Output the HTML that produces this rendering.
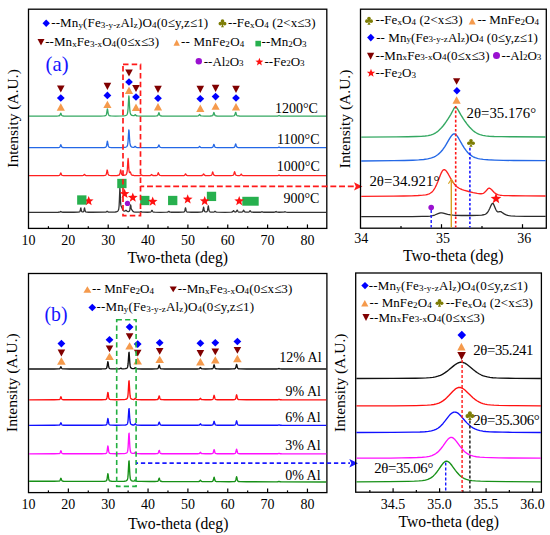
<!DOCTYPE html>
<html><head><meta charset="utf-8"><style>html,body{margin:0;padding:0;background:#fff;}svg{display:block;font-family:"Liberation Serif",serif;}</style></head><body>
<svg width="550" height="535" viewBox="0 0 550 535" font-family="Liberation Serif, serif">
<rect width="550" height="535" fill="#fff"/>
<polyline points="29.1,116.1 53.6,116.08 56.85,116.05 58.35,115.97 59.35,115.76 59.6,115.6 59.85,115.32 60.1,114.85 60.6,113.38 60.85,113.12 61.6,115.07 61.85,115.45 62.35,115.8 62.85,115.92 63.6,116 68.85,116.08 92.85,116.08 100.6,116.05 103.85,115.94 104.6,115.85 105.35,115.66 105.85,115.37 106.1,115.07 106.35,114.54 106.6,113.62 107.35,108.93 107.6,109.56 108.1,113.1 108.35,114.23 108.6,114.89 108.85,115.26 109.35,115.61 110.1,115.83 111.1,115.94 115.35,116.03 122.1,115.95 123.85,115.84 125.1,115.66 126.1,115.31 126.6,114.96 126.85,114.69 127.1,114.31 127.35,113.71 127.6,112.73 127.85,111.04 128.1,108.26 128.6,99.16 128.85,95.9 129.1,97.42 129.6,106.76 129.85,110.07 130.1,112.15 130.35,113.37 130.6,114.09 130.85,114.54 131.35,115.07 132.1,115.46 133.1,115.67 133.6,115.69 134.1,115.61 134.6,115.25 135.1,114.66 135.35,114.71 135.85,115.37 136.35,115.75 136.85,115.88 137.6,115.95 141.35,116.04 150.35,116.07 154.6,116.04 156.6,115.93 157.35,115.75 157.6,115.61 157.85,115.36 158.1,114.92 158.85,112.71 159.1,113.01 159.6,114.68 159.85,115.21 160.1,115.53 160.6,115.81 161.85,115.99 164.35,116.06 170.35,116.09 196.85,116.04 198.1,115.92 198.6,115.72 198.85,115.49 199.35,114.72 199.6,114.49 199.85,114.71 200.35,115.49 200.6,115.72 200.85,115.85 201.35,115.96 204.35,116.07 210.35,116.02 211.85,115.88 212.35,115.73 212.6,115.59 212.85,115.32 213.1,114.86 213.85,112.52 214.1,112.83 214.6,114.6 214.85,115.17 215.1,115.5 215.35,115.68 215.85,115.86 217.1,116 219.6,116.06 231.85,116.03 233.6,115.88 234.1,115.73 234.35,115.58 234.6,115.33 234.85,114.88 235.6,112.29 235.85,112.41 236.35,114.32 236.6,114.99 236.85,115.39 237.1,115.62 237.6,115.83 238.35,115.95 239.35,116.02 246.85,116.09 276.1,116.08 277.85,115.99 278.35,115.83 278.85,115.53 279.1,115.51 279.6,115.8 280.1,115.98 281.85,116.08 326.1,116.1" fill="none" stroke="#34a862" stroke-width="1.3" stroke-linejoin="round"/>
<polyline points="29.1,147.7 53.6,147.68 56.85,147.65 58.35,147.57 59.35,147.36 59.6,147.2 59.85,146.92 60.1,146.45 60.6,144.98 60.85,144.72 61.6,146.67 61.85,147.05 62.35,147.4 62.85,147.52 63.6,147.6 68.6,147.68 91.85,147.69 100.6,147.65 103.85,147.55 104.6,147.48 105.35,147.3 105.85,147.04 106.1,146.77 106.35,146.29 106.6,145.46 107.35,141.23 107.6,141.79 108.1,144.99 108.35,146.01 108.6,146.61 108.85,146.94 109.35,147.26 110.1,147.45 111.1,147.56 115.1,147.64 122.1,147.57 123.85,147.47 125.1,147.31 126.1,147 126.6,146.7 126.85,146.46 127.1,146.12 127.35,145.59 127.6,144.72 127.85,143.24 128.1,140.78 128.6,132.76 128.85,129.88 129.1,131.23 129.6,139.47 129.85,142.38 130.1,144.22 130.35,145.29 130.6,145.93 130.85,146.33 131.35,146.79 132.1,147.13 133.1,147.31 133.6,147.32 134.1,147.23 134.6,146.87 135.1,146.28 135.35,146.33 135.85,146.99 136.35,147.36 136.85,147.49 137.6,147.56 140.6,147.64 147.85,147.67 153.85,147.66 156.35,147.58 157.35,147.41 157.85,147.09 158.1,146.73 158.85,144.91 159.1,145.15 159.6,146.53 159.85,146.97 160.1,147.23 160.6,147.46 161.85,147.61 170.35,147.69 196.85,147.65 198.1,147.55 198.6,147.39 198.85,147.2 199.35,146.57 199.6,146.39 199.85,146.57 200.35,147.2 200.6,147.39 201.35,147.59 204.35,147.67 210.35,147.62 211.85,147.49 212.35,147.35 212.6,147.21 212.85,146.97 213.1,146.53 213.85,144.32 214.1,144.61 214.6,146.28 214.85,146.82 215.1,147.13 215.35,147.31 215.85,147.47 217.1,147.61 219.6,147.67 231.85,147.63 233.6,147.48 234.1,147.34 234.35,147.2 234.6,146.95 234.85,146.51 235.6,143.99 235.85,144.1 236.35,145.96 236.6,146.62 236.85,147.01 237.1,147.23 237.6,147.44 238.35,147.56 239.35,147.62 246.85,147.69 276.1,147.68 277.85,147.59 278.35,147.43 278.85,147.13 279.1,147.11 279.6,147.4 280.1,147.58 281.85,147.68 326.1,147.7" fill="none" stroke="#2468e6" stroke-width="1.3" stroke-linejoin="round"/>
<polyline points="29.1,175.7 53.6,175.68 58.35,175.58 59.35,175.39 59.6,175.25 59.85,175 60.1,174.58 60.6,173.25 60.85,173.01 61.6,174.77 61.85,175.12 62.35,175.43 63.6,175.61 72.1,175.69 79.85,175.68 82.35,175.62 83.35,175.44 83.85,175.05 84.35,174.37 84.6,174.33 85.1,174.99 85.6,175.42 86.1,175.56 86.6,175.61 89.35,175.67 97.6,175.67 101.85,175.63 103.85,175.55 104.85,175.42 105.35,175.27 105.85,174.92 106.1,174.54 106.35,173.87 106.6,172.78 107.1,170.02 107.35,170.19 107.85,173.03 108.1,174.03 108.35,174.63 108.6,174.97 108.85,175.16 109.6,175.41 111.1,175.56 114.35,175.6 117.1,175.52 118.1,175.41 118.85,175.21 119.35,174.86 119.6,174.48 119.85,173.81 120.1,172.71 120.6,169.94 120.85,170.11 121.35,172.94 121.6,173.93 121.85,174.52 122.1,174.84 122.35,175.02 122.85,175.2 123.6,175.27 124.6,175.2 125.35,175.01 125.85,174.75 126.1,174.54 126.35,174.24 126.6,173.78 126.85,172.99 127.1,171.58 127.35,169.15 127.85,160.9 128.1,158.51 128.35,160.84 128.85,168.91 129.1,171.18 129.35,172.3 129.6,172.61 129.85,172.37 130.1,171.9 130.35,171.85 131.1,174.16 131.35,174.61 131.6,174.89 131.85,175.06 132.35,175.25 133.85,175.48 136.85,175.6 139.6,175.57 140.35,175.4 141.1,174.87 141.35,174.9 142.1,175.43 142.85,175.59 145.6,175.65 149.35,175.61 150.1,175.54 150.6,175.39 150.85,175.22 151.35,174.63 151.6,174.47 151.85,174.63 152.35,175.21 152.85,175.48 154.1,175.59 156.1,175.52 156.85,175.34 157.1,175.18 157.35,174.91 157.6,174.44 158.1,172.96 158.35,172.7 159.1,174.66 159.35,175.04 159.6,175.26 160.1,175.46 161.35,175.6 164.35,175.67 171.85,175.69 180.35,175.67 183.1,175.61 183.85,175.53 184.35,175.37 184.6,175.18 184.85,174.87 185.35,173.99 185.6,173.94 186.35,175.13 186.85,175.46 187.35,175.56 188.6,175.64 191.1,175.68 200.85,175.63 202.1,175.49 202.6,175.26 202.85,175.01 203.35,174.13 203.6,173.88 203.85,174.13 204.35,175 204.6,175.26 205.1,175.49 206.6,175.62 209.35,175.59 210.85,175.41 211.35,175.19 211.6,174.94 211.85,174.5 212.1,173.79 212.6,171.98 212.85,172.1 213.35,173.96 213.6,174.61 213.85,175.01 214.35,175.35 214.85,175.48 216.1,175.61 218.85,175.66 226.85,175.67 230.85,175.62 232.6,175.44 233.1,175.26 233.35,175.08 233.6,174.75 233.85,174.18 234.35,172.24 234.6,171.69 234.85,172.24 235.35,174.17 235.6,174.74 235.85,175.07 236.1,175.25 236.6,175.43 237.85,175.56 239.35,175.54 240.1,175.35 240.35,175.17 240.6,174.87 241.1,174.11 241.35,174.16 241.85,174.95 242.1,175.22 242.35,175.39 243.1,175.57 244.85,175.66 276.35,175.68 277.85,175.59 278.35,175.42 278.85,175.13 279.1,175.11 279.6,175.4 280.1,175.58 281.85,175.68 326.1,175.7" fill="none" stroke="#ff2020" stroke-width="1.3" stroke-linejoin="round"/>
<polyline points="29.1,212.3 58.1,212.26 59.6,212.14 60.1,211.89 60.6,211.51 60.85,211.54 61.35,211.93 61.85,212.15 62.85,212.25 73.85,212.27 78.35,212.17 79.35,211.98 79.6,211.85 79.85,211.61 80.1,211.09 80.35,210.05 80.6,208.53 80.85,207.89 81.35,210.51 81.6,211.3 81.85,211.66 82.35,211.9 83.1,211.86 83.35,211.74 83.6,211.48 83.85,210.89 84.35,208.25 84.6,208.04 85.1,210.75 85.35,211.44 85.6,211.77 85.85,211.93 86.85,212.15 88.6,212.24 92.1,212.27 104.85,212.21 105.6,212.15 106.1,212.01 106.35,211.87 106.85,211.38 107.1,211.24 107.35,211.38 107.85,211.86 108.1,212 108.6,212.12 109.1,212.16 111.1,212.17 113.6,212.1 115.1,211.99 116.35,211.78 117.35,211.4 117.85,211 118.1,210.69 118.35,210.24 118.6,209.53 118.85,208.25 119.1,205.77 119.35,201.14 119.85,188.15 120.1,190.57 120.6,202.33 120.85,204.88 121.1,205.94 121.85,207.43 122.85,209.94 123.1,210.36 123.6,210.91 123.85,211.07 124.35,211.2 124.85,211.08 125.85,210.41 126.1,210.41 126.35,210.56 127.1,211.25 127.6,211.53 128.35,211.62 128.85,211.5 129.1,211.35 129.35,211.09 129.6,210.6 129.85,209.66 130.35,206.04 130.6,204.83 130.85,205.84 131.1,207.66 131.35,208.95 131.6,209.58 132.1,210.09 132.85,211.22 133.35,211.67 133.85,211.89 134.85,212.07 136.35,212.16 139.6,212.16 140.1,212.07 140.85,211.68 141.1,211.66 141.85,212.06 142.85,212.21 147.6,212.24 150.1,212.14 150.6,212.03 151.1,211.71 151.35,211.37 151.85,210.39 152.1,210.33 152.6,211.28 152.85,211.66 153.1,211.89 153.6,212.09 154.6,212.21 160.6,212.28 166.85,212.22 167.35,212.17 167.85,212.03 168.1,211.87 168.6,211.38 168.85,211.29 169.6,211.94 169.85,212.07 170.85,212.23 178.6,212.27 182.85,212.17 183.6,212.07 184.1,211.89 184.35,211.71 184.6,211.35 184.85,210.65 185.35,208.04 185.6,207.85 186.1,210.45 186.35,211.25 186.6,211.66 186.85,211.86 187.35,212.05 188.6,212.2 191.1,212.26 197.6,212.25 200.6,212.17 201.85,211.98 202.35,211.72 202.6,211.43 202.85,210.83 203.1,209.75 203.35,208.19 203.6,207.24 203.85,208.18 204.1,209.72 204.35,210.8 204.6,211.38 204.85,211.66 205.1,211.8 205.6,211.91 206.1,211.91 206.6,211.8 206.85,211.68 207.1,211.46 207.35,211.03 207.6,210.17 208.1,206.59 208.35,205.81 208.85,209.34 209.1,210.61 209.35,211.28 209.6,211.62 210.1,211.91 210.6,212.04 211.6,212.15 213.1,212.16 213.85,212.07 214.35,211.8 214.85,211.31 215.1,211.29 215.6,211.76 216.1,212.07 217.1,212.22 224.85,212.28 231.1,212.2 231.85,212.13 232.35,211.98 232.6,211.81 232.85,211.53 233.35,210.74 233.6,210.68 234.35,211.72 234.85,211.97 235.35,212.01 235.85,211.92 236.1,211.79 236.35,211.55 237.1,210.1 237.35,210.17 237.85,211.25 238.1,211.63 238.35,211.86 238.85,212.06 240.1,212.17 241.6,212.13 242.35,211.96 242.6,211.79 242.85,211.51 243.35,210.55 243.6,210.27 243.85,210.55 244.35,211.51 244.6,211.8 244.85,211.96 245.6,212.14 246.6,212.19 248.1,212.16 248.85,212.03 249.35,211.67 249.85,210.9 250.1,210.68 250.35,210.9 250.85,211.68 251.35,212.04 252.1,212.18 253.6,212.25 260.35,212.24 261.1,212.12 261.85,211.72 262.1,211.71 262.85,212.1 263.85,212.25 273.85,212.25 274.85,212.15 275.35,211.93 275.85,211.54 276.1,211.51 276.6,211.89 277.1,212.14 277.6,212.22 278.85,212.27 283.6,212.22 284.1,212.12 284.85,211.73 285.1,211.71 285.6,212 286.1,212.18 287.85,212.28 326.1,212.3" fill="none" stroke="#333333" stroke-width="1.3" stroke-linejoin="round"/>
<rect x="28.5" y="9.2" width="298.3" height="219.2" fill="none" stroke="#000" stroke-width="1.3"/>
<line x1="48.42" y1="228.4" x2="48.42" y2="226.2" stroke="#000" stroke-width="1.2"/>
<line x1="68.35" y1="228.4" x2="68.35" y2="224.4" stroke="#000" stroke-width="1.2"/>
<line x1="88.28" y1="228.4" x2="88.28" y2="226.2" stroke="#000" stroke-width="1.2"/>
<line x1="108.2" y1="228.4" x2="108.2" y2="224.4" stroke="#000" stroke-width="1.2"/>
<line x1="128.12" y1="228.4" x2="128.12" y2="226.2" stroke="#000" stroke-width="1.2"/>
<line x1="148.05" y1="228.4" x2="148.05" y2="224.4" stroke="#000" stroke-width="1.2"/>
<line x1="167.97" y1="228.4" x2="167.97" y2="226.2" stroke="#000" stroke-width="1.2"/>
<line x1="187.9" y1="228.4" x2="187.9" y2="224.4" stroke="#000" stroke-width="1.2"/>
<line x1="207.82" y1="228.4" x2="207.82" y2="226.2" stroke="#000" stroke-width="1.2"/>
<line x1="227.75" y1="228.4" x2="227.75" y2="224.4" stroke="#000" stroke-width="1.2"/>
<line x1="247.67" y1="228.4" x2="247.67" y2="226.2" stroke="#000" stroke-width="1.2"/>
<line x1="267.6" y1="228.4" x2="267.6" y2="224.4" stroke="#000" stroke-width="1.2"/>
<line x1="287.52" y1="228.4" x2="287.52" y2="226.2" stroke="#000" stroke-width="1.2"/>
<line x1="307.45" y1="228.4" x2="307.45" y2="224.4" stroke="#000" stroke-width="1.2"/>
<text x="28.5" y="245" font-size="14" text-anchor="middle" fill="#000" color="#000" >10</text>
<text x="68.35" y="245" font-size="14" text-anchor="middle" fill="#000" color="#000" >20</text>
<text x="108.2" y="245" font-size="14" text-anchor="middle" fill="#000" color="#000" >30</text>
<text x="148.05" y="245" font-size="14" text-anchor="middle" fill="#000" color="#000" >40</text>
<text x="187.9" y="245" font-size="14" text-anchor="middle" fill="#000" color="#000" >50</text>
<text x="227.75" y="245" font-size="14" text-anchor="middle" fill="#000" color="#000" >60</text>
<text x="267.6" y="245" font-size="14" text-anchor="middle" fill="#000" color="#000" >70</text>
<text x="307.45" y="245" font-size="14" text-anchor="middle" fill="#000" color="#000" >80</text>
<text x="177.8" y="263.3" font-size="15.7" text-anchor="middle" fill="#000" color="#000" >Two-theta (deg)</text>
<text transform="translate(17.6 118.5) rotate(-90)" font-size="15.5" text-anchor="middle">Intensity (A.U.)</text>
<path d="M46.2 19.5L49.9 23.2L46.2 26.9L42.5 23.2Z" fill="#0000ff"/>
<text x="51.2" y="27.2" font-size="13" fill="#000" color="#000" textLength="157" lengthAdjust="spacing">--Mn<tspan font-size="9" dy="0.5">y</tspan><tspan dy="-0.5">​</tspan>(Fe<tspan font-size="9" dy="0.5">3-y-z</tspan><tspan dy="-0.5">​</tspan>Al<tspan font-size="9" dy="0.5">z</tspan><tspan dy="-0.5">​</tspan>)O<tspan font-size="9" dy="0.5">4</tspan><tspan dy="-0.5">​</tspan>(0≤y,z≤1)</text>
<g fill="#7d7d05"><circle cx="222.5" cy="21.08" r="1.8"/><circle cx="220.34" cy="23.64" r="1.8"/><circle cx="224.66" cy="23.64" r="1.8"/><circle cx="222.5" cy="23" r="1.26"/><path d="M222.18 23Q222.02 26.2 220.9 27.16H224.1Q222.98 26.2 222.82 23Z"/></g>
<text x="228" y="27.2" font-size="13" fill="#000" color="#000" textLength="87.5" lengthAdjust="spacing">--Fe<tspan font-size="9" dy="0.5">x</tspan><tspan dy="-0.5">​</tspan>O<tspan font-size="9" dy="0.5">4</tspan><tspan dy="-0.5">​</tspan> (2&lt;x≤3)</text>
<path d="M37.5 38.9H44.5L41 45.5Z" fill="#800000"/>
<text x="45.2" y="46.4" font-size="13" fill="#000" color="#000" textLength="113.8" lengthAdjust="spacing">--Mn<tspan font-size="9" dy="0.5">x</tspan><tspan dy="-0.5">​</tspan>Fe<tspan font-size="9" dy="0.5">3-x</tspan><tspan dy="-0.5">​</tspan>O<tspan font-size="9" dy="0.5">4</tspan><tspan dy="-0.5">​</tspan>(0≤x≤3)</text>
<path d="M173.5 45.7H179.9L176.7 39.5Z" fill="#f59a4c"/>
<text x="181" y="46.4" font-size="13" fill="#000" color="#000" textLength="63.5" lengthAdjust="spacing">-- MnFe<tspan font-size="9" dy="0.5">2</tspan><tspan dy="-0.5">​</tspan>O<tspan font-size="9" dy="0.5">4</tspan><tspan dy="-0.5">​</tspan></text>
<rect x="255.4" y="40.8" width="5.6" height="5.6" fill="#27b04e"/>
<text x="261.6" y="46.4" font-size="13" fill="#000" color="#000" textLength="45" lengthAdjust="spacing">--Mn<tspan font-size="9" dy="0.5">2</tspan><tspan dy="-0.5">​</tspan>O<tspan font-size="9" dy="0.5">3</tspan><tspan dy="-0.5">​</tspan></text>
<circle cx="198.8" cy="61.3" r="3.2" fill="#9a10d0"/>
<text x="203.8" y="65.5" font-size="13" fill="#000" color="#000" textLength="39.7" lengthAdjust="spacing">--Al<tspan font-size="9" dy="0.5">2</tspan><tspan dy="-0.5">​</tspan>O<tspan font-size="9" dy="0.5">3</tspan><tspan dy="-0.5">​</tspan></text>
<polygon points="259.4,57.8 260.44,60.57 263.39,60.7 261.08,62.55 261.87,65.4 259.4,63.76 256.93,65.4 257.72,62.55 255.41,60.7 258.36,60.57" fill="#ff1010"/>
<text x="264.5" y="65.5" font-size="13" fill="#000" color="#000" textLength="40" lengthAdjust="spacing">--Fe<tspan font-size="9" dy="0.5">2</tspan><tspan dy="-0.5">​</tspan>O<tspan font-size="9" dy="0.5">3</tspan><tspan dy="-0.5">​</tspan></text>
<text x="57.1" y="70.7" font-size="22" text-anchor="middle" fill="#1414ff" color="#1414ff" textLength="23" lengthAdjust="spacingAndGlyphs">(a)</text>
<path d="M57 85.4H64.6L60.8 92.6Z" fill="#800000"/>
<path d="M60.8 94.2L64.7 98L60.8 101.8L56.9 98Z" fill="#0000ff"/>
<path d="M56.7 110.7H64.9L60.8 103.3Z" fill="#f59a4c"/>
<path d="M103.6 82.7H111.2L107.4 89.9Z" fill="#800000"/>
<path d="M107.4 91.6L111.3 95.4L107.4 99.2L103.5 95.4Z" fill="#0000ff"/>
<path d="M103.3 108.1H111.5L107.4 100.7Z" fill="#f59a4c"/>
<path d="M125.2 69.4H132.8L129 76.6Z" fill="#800000"/>
<path d="M129 78.2L132.9 82L129 85.8L125.1 82Z" fill="#0000ff"/>
<path d="M124.9 93.9H133.1L129 86.5Z" fill="#f59a4c"/>
<path d="M132.2 84.9H139.8L136 92.1Z" fill="#800000"/>
<path d="M136 93.2L139.9 97L136 100.8L132.1 97Z" fill="#0000ff"/>
<path d="M131.9 111H140.1L136 103.6Z" fill="#f59a4c"/>
<path d="M154.2 85.8H161.8L158 93Z" fill="#800000"/>
<path d="M158 94.5L161.9 98.3L158 102.1L154.1 98.3Z" fill="#0000ff"/>
<path d="M153.9 110.4H162.1L158 103Z" fill="#f59a4c"/>
<path d="M196.5 85.7H204.1L200.3 92.9Z" fill="#800000"/>
<path d="M200.3 94.9L204.2 98.7L200.3 102.5L196.4 98.7Z" fill="#0000ff"/>
<path d="M196.2 111.9H204.4L200.3 104.5Z" fill="#f59a4c"/>
<path d="M211.8 84.7H219.4L215.6 91.9Z" fill="#800000"/>
<path d="M215.6 92.8L219.5 96.6L215.6 100.4L211.7 96.6Z" fill="#0000ff"/>
<path d="M211.5 109.8H219.7L215.6 102.4Z" fill="#f59a4c"/>
<path d="M232.2 85.7H239.8L236 92.9Z" fill="#800000"/>
<path d="M236 94.2L239.9 98L236 101.8L232.1 98Z" fill="#0000ff"/>
<path d="M231.9 110.5H240.1L236 103.1Z" fill="#f59a4c"/>
<text x="317.9" y="113.2" font-size="14" text-anchor="end" fill="#000" color="#000" >1200°C</text>
<text x="319.5" y="144.1" font-size="14" text-anchor="end" fill="#000" color="#000" >1100°C</text>
<text x="319.8" y="171" font-size="14" text-anchor="end" fill="#000" color="#000" >1000°C</text>
<text x="319.4" y="202.8" font-size="14" text-anchor="end" fill="#000" color="#000" >900°C</text>
<polygon points="88.7,195.9 89.96,199.27 93.55,199.42 90.74,201.66 91.7,205.13 88.7,203.14 85.7,205.13 86.66,201.66 83.85,199.42 87.44,199.27" fill="#ff1010"/>
<rect x="77.15" y="195.35" width="9.3" height="9.3" fill="#27b04e"/>
<rect x="117.25" y="178.85" width="9.3" height="9.3" fill="#27b04e"/>
<rect x="140.15" y="195.85" width="9.3" height="9.3" fill="#27b04e"/>
<rect x="168.05" y="195.85" width="9.3" height="9.3" fill="#27b04e"/>
<rect x="206.85" y="191.75" width="9.3" height="9.3" fill="#27b04e"/>
<rect x="242.3" y="196.8" width="16.4" height="8.9" fill="#27b04e"/>
<polygon points="124.6,188.7 125.86,192.07 129.45,192.22 126.64,194.46 127.6,197.93 124.6,195.94 121.6,197.93 122.56,194.46 119.75,192.22 123.34,192.07" fill="#ff1010"/>
<polygon points="132.8,192.5 134.06,195.87 137.65,196.02 134.84,198.26 135.8,201.73 132.8,199.74 129.8,201.73 130.76,198.26 127.95,196.02 131.54,195.87" fill="#ff1010"/>
<polygon points="152.7,196.4 153.96,199.77 157.55,199.92 154.74,202.16 155.7,205.63 152.7,203.64 149.7,205.63 150.66,202.16 147.85,199.92 151.44,199.77" fill="#ff1010"/>
<polygon points="187.7,194.2 188.96,197.57 192.55,197.72 189.74,199.96 190.7,203.43 187.7,201.44 184.7,203.43 185.66,199.96 182.85,197.72 186.44,197.57" fill="#ff1010"/>
<polygon points="204.7,196 205.96,199.37 209.55,199.52 206.74,201.76 207.7,205.23 204.7,203.24 201.7,205.23 202.66,201.76 199.85,199.52 203.44,199.37" fill="#ff1010"/>
<polygon points="239.2,196 240.46,199.37 244.05,199.52 241.24,201.76 242.2,205.23 239.2,203.24 236.2,205.23 237.16,201.76 234.35,199.52 237.94,199.37" fill="#ff1010"/>
<circle cx="127.5" cy="203.4" r="2.6" fill="#9a10d0"/>
<rect x="123" y="64.4" width="17.5" height="151.3" fill="none" stroke="#ff1a1a" stroke-width="1.7" stroke-dasharray="5.5 3.2"/>
<line x1="140.5" y1="186.4" x2="354" y2="186.4" stroke="#ff1a1a" stroke-width="1.8" stroke-dasharray="5.9 2.83" stroke-dashoffset="2.2"/>
<path d="M354 182.2L362.4 186.4L354 190.6L355.8 186.4Z" fill="#ff1a1a"/>
<rect x="360.5" y="9.2" width="185.8" height="219" fill="none" stroke="#000" stroke-width="1.3"/>
<line x1="401" y1="228.2" x2="401" y2="226" stroke="#000" stroke-width="1.2"/>
<line x1="441.5" y1="228.2" x2="441.5" y2="224.2" stroke="#000" stroke-width="1.2"/>
<line x1="482" y1="228.2" x2="482" y2="226" stroke="#000" stroke-width="1.2"/>
<line x1="522.5" y1="228.2" x2="522.5" y2="224.2" stroke="#000" stroke-width="1.2"/>
<text x="361.3" y="242.6" font-size="14" text-anchor="middle" fill="#000" color="#000" >34</text>
<text x="443.1" y="242.6" font-size="14" text-anchor="middle" fill="#000" color="#000" >35</text>
<text x="524.2" y="242.6" font-size="14" text-anchor="middle" fill="#000" color="#000" >36</text>
<text x="453.2" y="261.3" font-size="15.7" text-anchor="middle" fill="#000" color="#000" >Two-theta (deg)</text>
<text transform="translate(349.8 118.9) rotate(-90)" font-size="15.5" text-anchor="middle">Intensity (A.U.)</text>
<g fill="#7d7d05"><circle cx="369" cy="18.58" r="1.8"/><circle cx="366.84" cy="21.14" r="1.8"/><circle cx="371.16" cy="21.14" r="1.8"/><circle cx="369" cy="20.5" r="1.26"/><path d="M368.68 20.5Q368.52 23.7 367.4 24.66H370.6Q369.48 23.7 369.32 20.5Z"/></g>
<text x="375.5" y="24.4" font-size="13" fill="#000" color="#000" textLength="87" lengthAdjust="spacing">--Fe<tspan font-size="9" dy="0.5">x</tspan><tspan dy="-0.5">​</tspan>O<tspan font-size="9" dy="0.5">4</tspan><tspan dy="-0.5">​</tspan> (2&lt;x≤3)</text>
<path d="M468.7 24.5H475.7L472.2 17.7Z" fill="#f59a4c"/>
<text x="477.4" y="24.4" font-size="13" fill="#000" color="#000" textLength="61.5" lengthAdjust="spacing">-- MnFe<tspan font-size="9" dy="0.5">2</tspan><tspan dy="-0.5">​</tspan>O<tspan font-size="9" dy="0.5">4</tspan><tspan dy="-0.5">​</tspan></text>
<path d="M370.8 33.8L374.5 37.6L370.8 41.4L367.1 37.6Z" fill="#0000ff"/>
<text x="376.2" y="41.6" font-size="13" fill="#000" color="#000" textLength="161.7" lengthAdjust="spacing">-- Mn<tspan font-size="9" dy="0.5">y</tspan><tspan dy="-0.5">​</tspan>(Fe<tspan font-size="9" dy="0.5">3-y-z</tspan><tspan dy="-0.5">​</tspan>Al<tspan font-size="9" dy="0.5">z</tspan><tspan dy="-0.5">​</tspan>)O<tspan font-size="9" dy="0.5">4</tspan><tspan dy="-0.5">​</tspan> (0≤y,z≤1)</text>
<path d="M367 52.8H374.2L370.6 59.8Z" fill="#800000"/>
<text x="375.5" y="59.8" font-size="13" fill="#000" color="#000" textLength="114" lengthAdjust="spacing">--Mn<tspan font-size="9" dy="0.5">x</tspan><tspan dy="-0.5">​</tspan>Fe<tspan font-size="9" dy="0.5">3-x</tspan><tspan dy="-0.5">​</tspan>O<tspan font-size="9" dy="0.5">4</tspan><tspan dy="-0.5">​</tspan>(0≤x≤3)</text>
<circle cx="496.5" cy="55.6" r="3.5" fill="#9a10d0"/>
<text x="501.6" y="59.8" font-size="13" fill="#000" color="#000" textLength="39.7" lengthAdjust="spacing">--Al<tspan font-size="9" dy="0.5">2</tspan><tspan dy="-0.5">​</tspan>O<tspan font-size="9" dy="0.5">3</tspan><tspan dy="-0.5">​</tspan></text>
<polygon points="371,68.8 372.09,71.7 375.18,71.84 372.76,73.77 373.59,76.76 371,75.05 368.41,76.76 369.24,73.77 366.82,71.84 369.91,71.7" fill="#ff1010"/>
<text x="375.5" y="77.4" font-size="13" fill="#000" color="#000" textLength="40.5" lengthAdjust="spacing">--Fe<tspan font-size="9" dy="0.5">2</tspan><tspan dy="-0.5">​</tspan>O<tspan font-size="9" dy="0.5">3</tspan><tspan dy="-0.5">​</tspan></text>
<polyline points="361.2,137.08 396.2,136.9 407.7,136.75 416.2,136.56 421.2,136.35 425.2,136.02 428.2,135.58 429.7,135.25 431.2,134.83 432.7,134.29 434.2,133.61 435.7,132.77 436.7,132.11 438.2,130.96 439.2,130.08 440.2,129.11 441.7,127.49 443.2,125.7 444.7,123.74 446.2,121.65 448.2,118.69 450.7,114.62 453.7,108.99 454.2,108.18 454.7,107.56 455.2,107.21 455.7,107.17 456.2,107.41 456.7,107.88 457.2,108.54 458.2,110.2 460.7,114.64 463.2,118.62 465.2,121.53 466.7,123.58 468.2,125.5 469.7,127.26 471.2,128.85 472.2,129.81 473.2,130.69 474.7,131.84 475.7,132.51 477.2,133.37 478.7,134.07 480.2,134.63 482.7,135.32 485.7,135.85 489.2,136.2 494.2,136.46 501.7,136.66 512.7,136.81 545.7,136.97" fill="none" stroke="#34a862" stroke-width="1.4" stroke-linejoin="round"/>
<polyline points="361.2,160.94 393.7,160.66 404.2,160.47 412.7,160.2 418.7,159.9 423.7,159.47 427.7,158.89 430.7,158.17 432.2,157.68 433.7,157.07 435.2,156.33 436.2,155.74 437.7,154.71 438.7,153.91 440.7,152.02 442.7,149.68 444.7,146.86 446.2,144.46 449.7,138.46 451.2,136.15 452.2,134.94 452.7,134.49 453.2,134.17 453.7,133.96 454.2,133.89 454.7,133.94 455.2,134.13 455.7,134.45 456.2,134.92 457.2,136.18 458.7,138.48 462.2,144.56 464.2,147.82 466.2,150.64 467.7,152.43 468.7,153.46 469.7,154.38 470.7,155.19 471.7,155.89 472.7,156.5 474.2,157.26 475.2,157.67 476.7,158.18 478.2,158.58 479.7,158.89 483.2,159.4 488.2,159.81 494.7,160.11 503.2,160.33 513.7,160.48 545.7,160.64" fill="none" stroke="#2468e6" stroke-width="1.4" stroke-linejoin="round"/>
<polyline points="361.2,196.4 393.7,196.17 403.7,196.03 411.7,195.83 418.2,195.54 422.7,195.2 425.7,194.8 427.2,194.48 428.2,194.18 429.2,193.79 430.2,193.27 431.7,192.18 432.7,191.18 433.2,190.58 434.2,189.18 435.2,187.47 436.7,184.35 437.7,181.95 440.2,175.46 441.2,173.11 441.7,172.09 442.2,171.22 442.7,170.53 443.2,170.03 443.7,169.74 444.2,169.65 444.7,169.73 445.2,169.99 445.7,170.39 446.7,171.58 448.2,173.98 451.2,179.35 452.7,181.82 454.2,183.91 455.2,185.08 456.2,186.08 457.2,186.93 458.2,187.64 459.2,188.25 460.7,189 462.2,189.6 463.7,190.11 468.7,191.52 473.2,192.6 477.2,193.37 480.2,193.71 481.2,193.71 482.2,193.59 483.2,193.29 484.2,192.73 484.7,192.34 485.7,191.35 487.7,188.98 488.2,188.53 488.7,188.24 489.2,188.17 489.7,188.27 490.2,188.51 490.7,188.87 491.7,189.81 494.2,192.43 495.7,193.64 496.7,194.22 497.7,194.64 498.7,194.94 500.2,195.21 502.2,195.41 504.7,195.55 512.7,195.77 525.7,195.9 545.7,195.96" fill="none" stroke="#ff2020" stroke-width="1.35" stroke-linejoin="round"/>
<polyline points="361.2,216.69 412.2,216.55 422.2,216.47 427.7,216.34 430.2,216.16 432.7,215.67 434.7,215.02 438.7,213.29 439.7,213.01 440.7,212.92 441.7,212.96 443.2,213.19 447.7,214.29 450.7,214.84 453.2,215.17 455.7,215.35 461.7,215.49 470.7,215.48 477.2,215.34 481.7,215.06 483.7,214.75 485.2,214.26 486.2,213.69 487.2,212.77 488.2,211.4 488.7,210.53 489.7,208.45 491.2,205.09 491.7,204.2 492.2,203.61 492.7,203.39 493.2,203.66 493.7,204.43 495.7,209.24 496.2,210.23 496.7,211 497.2,211.53 497.7,211.84 498.2,211.93 498.7,211.87 499.7,211.58 500.2,211.55 500.7,211.68 501.7,212.17 504.2,213.86 505.2,214.45 506.2,214.92 507.7,215.42 509.2,215.72 510.7,215.91 515.2,216.21 525.7,216.33 545.7,216.36" fill="none" stroke="#2a2a2a" stroke-width="1.3" stroke-linejoin="round"/>
<line x1="455.7" y1="106" x2="455.7" y2="227.5" stroke="#ff1a1a" stroke-width="1.6" stroke-dasharray="2.6 2"/>
<line x1="469.9" y1="147.8" x2="469.9" y2="227.5" stroke="#1a1aff" stroke-width="1.6" stroke-dasharray="2.6 2"/>
<line x1="431.2" y1="210" x2="431.2" y2="227.5" stroke="#1a1aff" stroke-width="1.4" stroke-dasharray="3 2"/>
<line x1="451.3" y1="180.5" x2="451.3" y2="227.5" stroke="#d4a020" stroke-width="1.4"/>
<path d="M448.4 183.8L451.3 179.2L454.2 183.8" fill="none" stroke="#d4a020" stroke-width="1.1"/>
<path d="M453 78.2H460.2L456.6 84.8Z" fill="#800000"/>
<path d="M456.9 87L460.6 90.7L456.9 94.4L453.2 90.7Z" fill="#0000ff"/>
<path d="M452.5 103.8H460.7L456.6 96.2Z" fill="#f59a4c"/>
<g fill="#7d7d05"><circle cx="471" cy="140.68" r="1.8"/><circle cx="468.84" cy="143.24" r="1.8"/><circle cx="473.16" cy="143.24" r="1.8"/><circle cx="471" cy="142.6" r="1.26"/><path d="M470.68 142.6Q470.52 145.8 469.4 146.76H472.6Q471.48 145.8 471.32 142.6Z"/></g>
<polygon points="496,193.1 497.38,196.8 501.33,196.97 498.24,199.43 499.29,203.23 496,201.05 492.71,203.23 493.76,199.43 490.67,196.97 494.62,196.8" fill="#ff1010"/>
<circle cx="431.2" cy="207.5" r="2.8" fill="#9a10d0"/>
<text x="466.6" y="118.1" font-size="14.8" text-anchor="start" fill="#000" color="#000" textLength="69.5" lengthAdjust="spacing">2θ=35.176°</text>
<text x="369.4" y="185.6" font-size="14.8" text-anchor="start" fill="#000" color="#000" textLength="70" lengthAdjust="spacing">2θ=34.921°</text>
<rect x="28.5" y="273.5" width="298.4" height="219.1" fill="none" stroke="#000" stroke-width="1.3"/>
<line x1="48.42" y1="492.6" x2="48.42" y2="490.4" stroke="#000" stroke-width="1.2"/>
<line x1="68.35" y1="492.6" x2="68.35" y2="488.6" stroke="#000" stroke-width="1.2"/>
<line x1="88.28" y1="492.6" x2="88.28" y2="490.4" stroke="#000" stroke-width="1.2"/>
<line x1="108.2" y1="492.6" x2="108.2" y2="488.6" stroke="#000" stroke-width="1.2"/>
<line x1="128.12" y1="492.6" x2="128.12" y2="490.4" stroke="#000" stroke-width="1.2"/>
<line x1="148.05" y1="492.6" x2="148.05" y2="488.6" stroke="#000" stroke-width="1.2"/>
<line x1="167.97" y1="492.6" x2="167.97" y2="490.4" stroke="#000" stroke-width="1.2"/>
<line x1="187.9" y1="492.6" x2="187.9" y2="488.6" stroke="#000" stroke-width="1.2"/>
<line x1="207.82" y1="492.6" x2="207.82" y2="490.4" stroke="#000" stroke-width="1.2"/>
<line x1="227.75" y1="492.6" x2="227.75" y2="488.6" stroke="#000" stroke-width="1.2"/>
<line x1="247.67" y1="492.6" x2="247.67" y2="490.4" stroke="#000" stroke-width="1.2"/>
<line x1="267.6" y1="492.6" x2="267.6" y2="488.6" stroke="#000" stroke-width="1.2"/>
<line x1="287.52" y1="492.6" x2="287.52" y2="490.4" stroke="#000" stroke-width="1.2"/>
<line x1="307.45" y1="492.6" x2="307.45" y2="488.6" stroke="#000" stroke-width="1.2"/>
<text x="28.5" y="509" font-size="14" text-anchor="middle" fill="#000" color="#000" >10</text>
<text x="68.35" y="509" font-size="14" text-anchor="middle" fill="#000" color="#000" >20</text>
<text x="108.2" y="509" font-size="14" text-anchor="middle" fill="#000" color="#000" >30</text>
<text x="148.05" y="509" font-size="14" text-anchor="middle" fill="#000" color="#000" >40</text>
<text x="187.9" y="509" font-size="14" text-anchor="middle" fill="#000" color="#000" >50</text>
<text x="227.75" y="509" font-size="14" text-anchor="middle" fill="#000" color="#000" >60</text>
<text x="267.6" y="509" font-size="14" text-anchor="middle" fill="#000" color="#000" >70</text>
<text x="307.45" y="509" font-size="14" text-anchor="middle" fill="#000" color="#000" >80</text>
<text x="178.2" y="528.5" font-size="15.7" text-anchor="middle" fill="#000" color="#000" >Two-theta (deg)</text>
<text transform="translate(17.2 382.6) rotate(-90)" font-size="15.5" text-anchor="middle">Intensity (A.U.)</text>
<path d="M83.45 292.65H91.35L87.4 286.15Z" fill="#f59a4c"/>
<text x="92.1" y="293" font-size="13" fill="#000" color="#000" textLength="62" lengthAdjust="spacing">-- MnFe<tspan font-size="9" dy="0.5">2</tspan><tspan dy="-0.5">​</tspan>O<tspan font-size="9" dy="0.5">4</tspan><tspan dy="-0.5">​</tspan></text>
<path d="M169.6 286.4H176.8L173.2 292.2Z" fill="#800000"/>
<text x="177.8" y="293" font-size="13" fill="#000" color="#000" textLength="114.5" lengthAdjust="spacing">--Mn<tspan font-size="9" dy="0.5">x</tspan><tspan dy="-0.5">​</tspan>Fe<tspan font-size="9" dy="0.5">3-x</tspan><tspan dy="-0.5">​</tspan>O<tspan font-size="9" dy="0.5">4</tspan><tspan dy="-0.5">​</tspan>(0≤x≤3)</text>
<path d="M92.3 303.8L96.15 307.5L92.3 311.2L88.45 307.5Z" fill="#0000ff"/>
<text x="96.5" y="311.3" font-size="13" fill="#000" color="#000" textLength="157.5" lengthAdjust="spacing">--Mn<tspan font-size="9" dy="0.5">y</tspan><tspan dy="-0.5">​</tspan>(Fe<tspan font-size="9" dy="0.5">3-y-z</tspan><tspan dy="-0.5">​</tspan>Al<tspan font-size="9" dy="0.5">z</tspan><tspan dy="-0.5">​</tspan>)O<tspan font-size="9" dy="0.5">4</tspan><tspan dy="-0.5">​</tspan>(0≤y,z≤1)</text>
<text x="56" y="321.2" font-size="22" text-anchor="middle" fill="#1414ff" color="#1414ff" textLength="23" lengthAdjust="spacingAndGlyphs">(b)</text>
<path d="M61.4 339.8L65.3 343.6L61.4 347.4L57.5 343.6Z" fill="#0000ff"/>
<path d="M57.6 349.6H65.2L61.4 356.4Z" fill="#800000"/>
<path d="M57.1 364.7H65.7L61.4 357.3Z" fill="#f59a4c"/>
<path d="M109.5 335.9L113.4 339.7L109.5 343.5L105.6 339.7Z" fill="#0000ff"/>
<path d="M105.7 345.5H113.3L109.5 352.3Z" fill="#800000"/>
<path d="M105.2 360.1H113.8L109.5 352.7Z" fill="#f59a4c"/>
<path d="M129.6 323.2L133.5 327L129.6 330.8L125.7 327Z" fill="#0000ff"/>
<path d="M125.8 333.2H133.4L129.6 340Z" fill="#800000"/>
<path d="M125.3 349.6H133.9L129.6 342.2Z" fill="#f59a4c"/>
<path d="M137.7 340.3L141.6 344.1L137.7 347.9L133.8 344.1Z" fill="#0000ff"/>
<path d="M133.9 349.8H141.5L137.7 356.6Z" fill="#800000"/>
<path d="M133.4 364.6H142L137.7 357.2Z" fill="#f59a4c"/>
<path d="M159.7 339L163.6 342.8L159.7 346.6L155.8 342.8Z" fill="#0000ff"/>
<path d="M155.9 348H163.5L159.7 354.8Z" fill="#800000"/>
<path d="M155.4 363.1H164L159.7 355.7Z" fill="#f59a4c"/>
<path d="M200.4 339.5L204.3 343.3L200.4 347.1L196.5 343.3Z" fill="#0000ff"/>
<path d="M196.6 350.1H204.2L200.4 356.9Z" fill="#800000"/>
<path d="M196.1 365.5H204.7L200.4 358.1Z" fill="#f59a4c"/>
<path d="M215.3 339L219.2 342.8L215.3 346.6L211.4 342.8Z" fill="#0000ff"/>
<path d="M211.5 348.4H219.1L215.3 355.2Z" fill="#800000"/>
<path d="M211 363.6H219.6L215.3 356.2Z" fill="#f59a4c"/>
<path d="M237.4 337.7L241.3 341.5L237.4 345.3L233.5 341.5Z" fill="#0000ff"/>
<path d="M233.6 346.9H241.2L237.4 353.7Z" fill="#800000"/>
<path d="M233.1 362.2H241.7L237.4 354.8Z" fill="#f59a4c"/>
<text x="321.6" y="362.3" font-size="14" text-anchor="end" fill="#000" color="#000" >12% Al</text>
<text x="321" y="396.1" font-size="14" text-anchor="end" fill="#000" color="#000" >9% Al</text>
<text x="320.6" y="421.7" font-size="14" text-anchor="end" fill="#000" color="#000" >6% Al</text>
<text x="320.6" y="450.1" font-size="14" text-anchor="end" fill="#000" color="#000" >3% Al</text>
<text x="320.6" y="479.8" font-size="14" text-anchor="end" fill="#000" color="#000" >0% Al</text>
<polyline points="29.1,369 54.1,368.99 58.6,368.91 59.35,368.82 59.85,368.57 60.1,368.27 60.6,367.2 60.85,366.81 61.1,367 61.6,368.1 61.85,368.47 62.1,368.68 62.6,368.85 63.6,368.94 69.35,368.99 95.85,368.98 101.85,368.95 104.6,368.85 105.6,368.71 106.1,368.54 106.35,368.38 106.6,368.1 106.85,367.54 107.1,366.53 107.6,362.95 107.85,361.63 108.1,362.25 108.6,365.95 108.85,367.2 109.1,367.91 109.35,368.29 109.85,368.6 110.85,368.81 112.35,368.9 118.85,368.91 119.35,368.87 119.85,368.75 120.6,368.2 120.85,368.13 121.6,368.65 122.1,368.81 123.6,368.83 125.35,368.67 126.1,368.5 126.85,368.13 127.1,367.9 127.35,367.54 127.6,366.91 127.85,365.74 128.1,363.69 128.85,352.75 129.1,352.33 129.85,363.14 130.1,365.41 130.35,366.72 130.6,367.44 130.85,367.84 131.1,368.08 131.85,368.47 133.1,368.69 133.85,368.7 134.35,368.56 134.6,368.37 135.1,367.79 135.35,367.7 136.1,368.51 136.35,368.68 136.85,368.83 137.6,368.89 141.85,368.96 152.1,368.97 155.6,368.93 157.1,368.81 157.6,368.69 157.85,368.55 158.1,368.29 158.35,367.8 159.1,365.09 159.35,365.2 159.85,367.18 160.1,367.92 160.35,368.35 160.6,368.58 160.85,368.71 162.1,368.9 164.6,368.97 170.1,368.99 197.85,368.95 198.85,368.87 199.35,368.7 199.6,368.49 200.35,367.5 200.6,367.63 201.1,368.38 201.35,368.63 201.6,368.77 202.1,368.89 205.35,368.97 210.85,368.91 212.1,368.79 212.6,368.63 212.85,368.44 213.1,368.08 213.35,367.44 213.85,365.36 214.1,364.8 214.35,365.36 214.85,367.44 215.1,368.08 215.35,368.44 215.6,368.63 216.1,368.79 217.35,368.91 220.1,368.97 229.1,368.98 233.1,368.92 234.6,368.77 235.1,368.59 235.35,368.39 235.6,368 235.85,367.3 236.35,365.01 236.6,364.4 236.85,365.01 237.35,367.3 237.6,368 237.85,368.39 238.1,368.59 238.6,368.77 239.85,368.91 246.35,368.99 276.35,368.98 277.85,368.92 278.35,368.77 278.85,368.52 279.1,368.51 280.1,368.91 281.6,368.98 326.35,369" fill="none" stroke="#111111" stroke-width="1.35" stroke-linejoin="round"/>
<polyline points="29.1,399.8 54.1,399.78 58.6,399.68 59.35,399.55 59.6,399.44 59.85,399.21 60.1,398.8 60.6,397.35 60.85,396.82 61.1,397.07 61.6,398.57 61.85,399.07 62.1,399.36 62.6,399.59 63.6,399.71 68.85,399.79 94.6,399.79 101.6,399.75 104.6,399.65 105.6,399.5 106.1,399.33 106.35,399.17 106.6,398.88 106.85,398.32 107.1,397.29 107.6,393.67 107.85,392.33 108.1,392.96 108.6,396.71 108.85,397.98 109.1,398.7 109.35,399.08 109.85,399.39 110.6,399.57 111.6,399.67 115.6,399.74 122.35,399.68 124.1,399.59 125.35,399.43 126.1,399.23 126.85,398.81 127.1,398.55 127.35,398.14 127.6,397.41 127.85,396.08 128.1,393.74 128.85,381.26 129.1,380.78 129.85,393.12 130.1,395.7 130.35,397.2 130.6,398.02 130.85,398.47 131.1,398.75 131.35,398.95 131.85,399.19 132.35,399.34 133.1,399.45 133.85,399.45 134.35,399.26 134.6,399.03 135.1,398.3 135.35,398.18 136.1,399.2 136.35,399.41 136.85,399.59 137.6,399.67 141.35,399.75 150.6,399.77 154.85,399.75 156.85,399.64 157.6,399.48 157.85,399.35 158.1,399.09 158.35,398.6 159.1,395.89 159.35,396 159.85,397.98 160.1,398.72 160.35,399.15 160.6,399.38 160.85,399.5 162.1,399.7 164.6,399.77 170.1,399.79 197.85,399.75 198.85,399.67 199.35,399.5 199.6,399.29 200.35,398.3 200.6,398.43 201.1,399.18 201.35,399.43 201.6,399.57 202.1,399.69 205.35,399.77 210.85,399.71 212.1,399.57 212.6,399.4 212.85,399.2 213.1,398.82 213.35,398.13 213.85,395.9 214.1,395.29 214.35,395.9 214.85,398.13 215.1,398.82 215.35,399.2 215.6,399.4 216.1,399.57 217.35,399.71 220.1,399.77 229.1,399.78 233.1,399.71 234.6,399.55 235.1,399.36 235.35,399.14 235.6,398.71 235.85,397.95 236.35,395.47 236.6,394.8 236.85,395.47 237.35,397.95 237.6,398.71 237.85,399.14 238.1,399.36 238.6,399.55 239.85,399.7 246.35,399.79 276.35,399.78 277.85,399.72 278.35,399.57 278.85,399.32 279.1,399.31 280.1,399.71 281.6,399.78 326.35,399.8" fill="none" stroke="#ff1010" stroke-width="1.35" stroke-linejoin="round"/>
<polyline points="29.1,425.3 54.1,425.29 58.6,425.2 59.35,425.09 59.85,424.81 60.1,424.47 60.6,423.26 60.85,422.81 61.1,423.02 61.6,424.27 61.85,424.69 62.1,424.94 62.6,425.13 63.6,425.23 69.1,425.29 95.1,425.29 101.85,425.25 104.6,425.16 105.6,425.03 106.1,424.88 106.35,424.73 106.6,424.47 106.85,423.96 107.1,423.03 107.6,419.74 107.85,418.53 108.1,419.1 108.6,422.5 108.85,423.65 109.1,424.3 109.35,424.64 109.85,424.93 110.6,425.09 111.6,425.18 115.6,425.25 122.35,425.19 124.1,425.11 125.35,424.98 126.1,424.8 126.85,424.43 127.1,424.2 127.35,423.84 127.6,423.21 127.85,422.04 128.1,419.99 128.85,409.05 129.1,408.63 129.85,419.44 130.1,421.71 130.35,423.02 130.6,423.73 130.85,424.13 131.1,424.38 131.85,424.77 133.1,424.98 133.85,424.97 134.35,424.79 134.6,424.55 135.1,423.82 135.35,423.7 136.1,424.71 136.35,424.92 136.85,425.1 137.6,425.18 141.1,425.26 149.6,425.28 154.85,425.26 156.85,425.17 157.6,425.05 157.85,424.94 158.1,424.73 158.35,424.34 159.1,422.17 159.35,422.26 159.85,423.84 160.1,424.43 160.35,424.78 160.85,425.06 162.1,425.22 171.1,425.29 197.85,425.25 198.85,425.17 199.35,425 199.6,424.79 200.35,423.8 200.6,423.93 201.1,424.68 201.35,424.93 201.6,425.07 202.1,425.19 205.35,425.27 210.85,425.22 212.1,425.1 212.6,424.94 212.85,424.77 213.1,424.43 213.35,423.82 213.85,421.83 214.1,421.3 214.35,421.83 214.85,423.82 215.1,424.43 215.35,424.77 215.6,424.94 216.1,425.1 217.35,425.22 220.1,425.27 229.1,425.28 233.1,425.22 234.6,425.07 235.1,424.9 235.35,424.7 235.6,424.32 235.85,423.63 236.35,421.4 236.6,420.8 236.85,421.4 237.35,423.63 237.6,424.32 237.85,424.7 238.1,424.9 238.6,425.07 239.85,425.21 246.6,425.29 276.35,425.28 277.85,425.22 278.35,425.07 278.85,424.83 279.1,424.81 280.1,425.21 281.6,425.28 326.35,425.3" fill="none" stroke="#1010ff" stroke-width="1.35" stroke-linejoin="round"/>
<polyline points="29.1,453.8 54.1,453.78 58.6,453.68 59.35,453.55 59.6,453.44 59.85,453.21 60.1,452.8 60.6,451.35 60.85,450.82 61.1,451.07 61.6,452.57 61.85,453.07 62.1,453.36 62.6,453.59 63.6,453.71 69.1,453.79 94.85,453.78 101.85,453.75 104.6,453.64 105.6,453.49 106.1,453.31 106.35,453.15 106.6,452.85 106.85,452.26 107.1,451.19 107.6,447.42 107.85,446.03 108.1,446.69 108.6,450.59 108.85,451.9 109.1,452.65 109.35,453.05 109.85,453.38 110.6,453.56 111.6,453.66 115.85,453.74 122.35,453.67 124.1,453.57 125.35,453.4 126.1,453.19 126.85,452.73 127.1,452.45 127.35,452 127.6,451.22 127.85,449.78 128.1,447.25 128.85,433.73 129.1,433.21 129.85,446.57 130.1,449.37 130.35,450.99 130.6,451.87 130.85,452.36 131.1,452.67 131.35,452.88 131.85,453.15 132.35,453.3 133.1,453.42 133.85,453.43 134.35,453.25 134.6,453.01 135.1,452.29 135.35,452.17 136.1,453.19 136.35,453.4 136.85,453.59 137.6,453.67 141.1,453.75 149.6,453.78 154.85,453.75 156.85,453.66 157.6,453.52 157.85,453.4 158.1,453.17 158.35,452.75 159.1,450.38 159.35,450.48 159.85,452.21 160.1,452.85 160.35,453.23 160.6,453.43 160.85,453.54 162.1,453.71 170.6,453.79 197.85,453.75 198.85,453.67 199.35,453.5 199.6,453.29 200.35,452.3 200.6,452.43 201.1,453.18 201.35,453.43 201.6,453.57 202.1,453.69 205.35,453.77 210.85,453.71 212.1,453.59 212.6,453.43 212.85,453.24 213.1,452.88 213.35,452.24 213.85,450.16 214.1,449.6 214.35,450.16 214.85,452.24 215.1,452.88 215.35,453.24 215.6,453.43 216.1,453.59 217.35,453.71 220.1,453.77 229.1,453.78 233.1,453.72 234.6,453.57 235.1,453.39 235.35,453.19 235.6,452.8 235.85,452.1 236.35,449.81 236.6,449.2 236.85,449.81 237.35,452.1 237.6,452.8 237.85,453.19 238.1,453.39 238.6,453.57 239.85,453.71 246.35,453.79 276.35,453.78 277.85,453.72 278.35,453.57 278.85,453.32 279.1,453.31 280.1,453.71 281.6,453.78 326.35,453.8" fill="none" stroke="#ff10ff" stroke-width="1.35" stroke-linejoin="round"/>
<polyline points="29.1,481.2 54.1,481.25 58.6,481.16 59.35,481.04 59.6,480.92 59.85,480.7 60.1,480.29 60.6,478.84 60.85,478.3 61.1,478.56 61.6,480.06 61.85,480.56 62.1,480.85 62.6,481.09 63.6,481.21 69.1,481.3 94.85,481.36 101.85,481.34 104.6,481.24 105.6,481.1 106.1,480.92 106.35,480.76 106.6,480.46 106.85,479.87 107.1,478.8 107.6,475.03 107.85,473.65 108.1,474.3 108.6,478.2 108.85,479.52 109.1,480.27 109.35,480.66 109.85,481 110.6,481.18 111.6,481.28 115.85,481.38 122.35,481.32 124.1,481.23 125.35,481.06 126.1,480.85 126.85,480.39 127.1,480.11 127.35,479.67 127.6,478.88 127.85,477.44 128.1,474.91 128.85,461.4 129.1,460.88 129.85,474.24 130.1,477.04 130.35,478.66 130.6,479.54 130.85,480.04 131.1,480.34 131.35,480.55 131.85,480.82 132.35,480.98 133.1,481.1 133.85,481.11 134.35,480.93 134.6,480.7 135.1,479.97 135.35,479.86 136.1,480.88 136.35,481.09 136.85,481.28 137.6,481.36 141.1,481.45 149.6,481.5 154.85,481.49 156.85,481.41 157.6,481.27 157.85,481.15 158.1,480.92 158.35,480.49 159.1,478.13 159.35,478.23 159.85,479.96 160.1,480.6 160.35,480.99 160.6,481.19 160.85,481.29 162.1,481.46 170.85,481.57 197.85,481.6 198.85,481.53 199.35,481.36 199.6,481.15 200.35,480.16 200.6,480.29 201.1,481.04 201.35,481.29 201.6,481.44 202.1,481.55 205.35,481.64 210.85,481.59 212.1,481.46 212.6,481.29 212.85,481.09 213.1,480.71 213.35,480.03 213.85,477.79 214.1,477.19 214.35,477.8 214.85,480.03 215.1,480.72 215.35,481.1 215.6,481.3 216.1,481.47 217.35,481.61 220.1,481.68 229.1,481.71 233.1,481.66 234.6,481.5 235.1,481.31 235.35,481.09 235.6,480.66 235.85,479.9 236.35,477.42 236.6,476.75 236.85,477.42 237.35,479.91 237.6,480.67 237.85,481.1 238.1,481.32 238.6,481.51 239.85,481.66 246.35,481.77 276.35,481.85 277.85,481.79 278.35,481.64 278.85,481.39 279.1,481.38 280.1,481.78 281.6,481.86 326.35,482" fill="none" stroke="#169016" stroke-width="1.35" stroke-linejoin="round"/>
<rect x="116.7" y="319.7" width="19.4" height="166.7" fill="none" stroke="#22b040" stroke-width="1.6" stroke-dasharray="5.2 3.2"/>
<line x1="136.4" y1="463.1" x2="350" y2="463.1" stroke="#1a1aff" stroke-width="1.7" stroke-dasharray="4.3 2.85" stroke-dashoffset="2.65"/>
<path d="M349.3 459.1L358 463.2L349.3 467.4L351.3 463.2Z" fill="#1a1aff"/>
<rect x="355.7" y="273" width="185.7" height="219.2" fill="none" stroke="#000" stroke-width="1.3"/>
<line x1="369.85" y1="492.2" x2="369.85" y2="490" stroke="#000" stroke-width="1.2"/>
<line x1="393.1" y1="492.2" x2="393.1" y2="488.2" stroke="#000" stroke-width="1.2"/>
<line x1="416.35" y1="492.2" x2="416.35" y2="490" stroke="#000" stroke-width="1.2"/>
<line x1="439.6" y1="492.2" x2="439.6" y2="488.2" stroke="#000" stroke-width="1.2"/>
<line x1="462.85" y1="492.2" x2="462.85" y2="490" stroke="#000" stroke-width="1.2"/>
<line x1="486.1" y1="492.2" x2="486.1" y2="488.2" stroke="#000" stroke-width="1.2"/>
<line x1="509.35" y1="492.2" x2="509.35" y2="490" stroke="#000" stroke-width="1.2"/>
<line x1="532.6" y1="492.2" x2="532.6" y2="488.2" stroke="#000" stroke-width="1.2"/>
<text x="393.1" y="508.5" font-size="14" text-anchor="middle" fill="#000" color="#000" >34.5</text>
<text x="439.6" y="508.5" font-size="14" text-anchor="middle" fill="#000" color="#000" >35.0</text>
<text x="486.1" y="508.5" font-size="14" text-anchor="middle" fill="#000" color="#000" >35.5</text>
<text x="532.6" y="508.5" font-size="14" text-anchor="middle" fill="#000" color="#000" >36.0</text>
<text x="448.7" y="526.6" font-size="15.7" text-anchor="middle" fill="#000" color="#000" >Two-theta (deg)</text>
<text transform="translate(344.9 382.8) rotate(-90)" font-size="15.5" text-anchor="middle">Intensity (A.U.)</text>
<path d="M365 281.9L368.7 285.6L365 289.3L361.3 285.6Z" fill="#0000ff"/>
<text x="368.8" y="290" font-size="13" fill="#000" color="#000" textLength="159" lengthAdjust="spacing">--Mn<tspan font-size="9" dy="0.5">y</tspan><tspan dy="-0.5">​</tspan>(Fe<tspan font-size="9" dy="0.5">3-y-z</tspan><tspan dy="-0.5">​</tspan>Al<tspan font-size="9" dy="0.5">z</tspan><tspan dy="-0.5">​</tspan>)O<tspan font-size="9" dy="0.5">4</tspan><tspan dy="-0.5">​</tspan>(0≤y,z≤1)</text>
<path d="M361.2 306.6H368.4L364.8 300Z" fill="#f59a4c"/>
<text x="369.5" y="307" font-size="13" fill="#000" color="#000" textLength="62.2" lengthAdjust="spacing">-- MnFe<tspan font-size="9" dy="0.5">2</tspan><tspan dy="-0.5">​</tspan>O<tspan font-size="9" dy="0.5">4</tspan><tspan dy="-0.5">​</tspan></text>
<g fill="#7d7d05"><circle cx="439.5" cy="300.68" r="1.8"/><circle cx="437.34" cy="303.24" r="1.8"/><circle cx="441.66" cy="303.24" r="1.8"/><circle cx="439.5" cy="302.6" r="1.26"/><path d="M439.18 302.6Q439.02 305.8 437.9 306.76H441.1Q439.98 305.8 439.82 302.6Z"/></g>
<text x="445.8" y="307" font-size="13" fill="#000" color="#000" textLength="87.1" lengthAdjust="spacing">--Fe<tspan font-size="9" dy="0.5">x</tspan><tspan dy="-0.5">​</tspan>O<tspan font-size="9" dy="0.5">4</tspan><tspan dy="-0.5">​</tspan> (2&lt;x≤3)</text>
<path d="M362.4 314.1H369.6L366 321.1Z" fill="#800000"/>
<text x="369.5" y="321.8" font-size="13" fill="#000" color="#000" textLength="115" lengthAdjust="spacing">--Mn<tspan font-size="9" dy="0.5">x</tspan><tspan dy="-0.5">​</tspan>Fe<tspan font-size="9" dy="0.5">3-x</tspan><tspan dy="-0.5">​</tspan>O<tspan font-size="9" dy="0.5">4</tspan><tspan dy="-0.5">​</tspan>(0≤x≤3)</text>
<polyline points="356.4,378.53 393.4,378.43 415.4,378.23 421.9,378.09 426.4,377.92 429.9,377.67 432.9,377.31 435.4,376.86 437.9,376.19 440.4,375.27 442.4,374.31 444.4,373.15 446.9,371.41 448.9,369.83 453.9,365.63 455.4,364.5 456.4,363.83 457.9,363 458.9,362.6 460.4,362.25 461.4,362.2 462.4,362.31 463.9,362.74 464.9,363.2 466.4,364.08 468.9,365.96 473.4,369.75 475.4,371.34 477.4,372.76 479.4,373.99 481.4,375.01 483.4,375.82 485.4,376.46 487.4,376.94 489.9,377.37 492.9,377.71 496.4,377.94 500.4,378.09 515.4,378.33 540.9,378.47" fill="none" stroke="#111111" stroke-width="1.35" stroke-linejoin="round"/>
<polyline points="356.4,405.92 393.9,405.8 415.9,405.57 422.4,405.41 427.4,405.19 430.9,404.91 433.9,404.48 436.4,403.91 438.9,403.07 440.9,402.12 442.9,400.9 444.9,399.39 446.9,397.59 448.9,395.56 452.9,391.28 454.9,389.4 456.4,388.31 457.4,387.8 458.4,387.49 459.4,387.4 460.4,387.51 461.4,387.81 462.4,388.28 463.9,389.26 464.9,390.06 466.4,391.41 470.9,395.85 472.9,397.7 474.9,399.35 476.9,400.76 478.9,401.92 480.9,402.84 482.9,403.55 484.9,404.09 487.4,404.56 490.4,404.93 493.9,405.19 498.9,405.4 514.9,405.69 540.9,405.85" fill="none" stroke="#ff1010" stroke-width="1.35" stroke-linejoin="round"/>
<polyline points="356.4,432.52 392.9,432.39 413.4,432.14 419.9,431.96 424.9,431.71 428.4,431.39 431.4,430.9 433.9,430.21 435.9,429.38 437.9,428.24 439.4,427.14 440.9,425.8 442.9,423.67 444.9,421.19 448.4,416.57 449.4,415.37 450.4,414.31 451.4,413.43 451.9,413.06 452.9,412.51 453.9,412.18 454.9,412.09 455.9,412.22 456.9,412.58 457.9,413.15 458.9,413.94 460.9,415.96 465.4,421.21 466.9,422.86 468.9,424.84 470.9,426.52 472.9,427.88 474.9,428.96 477.4,429.96 479.9,430.66 482.9,431.21 485.9,431.54 489.9,431.81 494.9,432 502.4,432.18 512.4,432.31 540.9,432.47" fill="none" stroke="#1010ff" stroke-width="1.35" stroke-linejoin="round"/>
<polyline points="356.4,458.19 390.4,458.05 401.4,457.93 410.4,457.75 417.4,457.52 422.4,457.23 426.4,456.84 429.4,456.31 431.9,455.59 433.9,454.74 434.9,454.19 435.9,453.55 437.4,452.4 438.9,450.99 440.9,448.74 442.9,446.1 446.4,441.15 447.9,439.33 448.9,438.37 449.9,437.72 450.4,437.52 450.9,437.42 451.4,437.41 451.9,437.49 452.9,437.9 453.9,438.62 454.9,439.6 456.4,441.41 459.9,446.17 461.9,448.7 463.9,450.88 465.4,452.25 466.9,453.39 468.9,454.58 470.9,455.45 473.4,456.19 476.4,456.75 479.9,457.13 484.4,457.43 490.9,457.68 498.9,457.86 509.4,458 540.9,458.17" fill="none" stroke="#ff10ff" stroke-width="1.35" stroke-linejoin="round"/>
<polyline points="356.4,481.8 388.9,481.66 407.9,481.39 414.4,481.18 418.9,480.92 422.4,480.58 425.4,480.06 426.9,479.66 427.9,479.33 429.9,478.42 430.9,477.84 431.9,477.15 433.4,475.9 434.9,474.38 436.9,471.95 438.4,469.87 441.4,465.5 442.9,463.54 443.9,462.48 444.9,461.7 445.4,461.44 445.9,461.27 446.4,461.2 446.9,461.23 447.4,461.34 447.9,461.55 448.9,462.19 449.9,463.11 450.9,464.25 451.9,465.53 455.4,470.37 456.9,472.3 458.9,474.57 460.4,475.98 461.4,476.79 462.4,477.5 464.4,478.62 466.4,479.43 468.9,480.1 471.9,480.58 475.4,480.91 480.4,481.18 487.4,481.39 507.4,481.66 540.9,481.8" fill="none" stroke="#169016" stroke-width="1.35" stroke-linejoin="round"/>
<line x1="462.1" y1="360" x2="462.1" y2="491.5" stroke="#ff1a1a" stroke-width="1.4" stroke-dasharray="3 2"/>
<line x1="469.9" y1="420.5" x2="469.9" y2="491.5" stroke="#111" stroke-width="1.4" stroke-dasharray="3 2"/>
<line x1="445.7" y1="462.5" x2="445.7" y2="491.5" stroke="#1a1aff" stroke-width="1.4" stroke-dasharray="3 2"/>
<path d="M461.8 330.7L466.1 335.1L461.8 339.5L457.5 335.1Z" fill="#0000ff"/>
<path d="M457.3 350.4H465.5L461.4 342.8Z" fill="#f59a4c"/>
<path d="M457.3 351.9H465.9L461.6 360.1Z" fill="#800000"/>
<g fill="#7d7d05"><circle cx="469.9" cy="413.24" r="2.02"/><circle cx="467.47" cy="416.12" r="2.02"/><circle cx="472.33" cy="416.12" r="2.02"/><circle cx="469.9" cy="415.4" r="1.42"/><path d="M469.54 415.4Q469.36 419 468.1 420.08H471.7Q470.44 419 470.26 415.4Z"/></g>
<text x="473.3" y="354.9" font-size="14.8" text-anchor="start" fill="#000" color="#000" textLength="60.2" lengthAdjust="spacing">2θ=35.241</text>
<text x="473.3" y="425.4" font-size="14.8" text-anchor="start" fill="#000" color="#000" textLength="66.4" lengthAdjust="spacing">2θ=35.306°</text>
<text x="374.2" y="473.4" font-size="14.8" text-anchor="start" fill="#000" color="#000" textLength="59.1" lengthAdjust="spacing">2θ=35.06°</text>
</svg>
</body></html>
